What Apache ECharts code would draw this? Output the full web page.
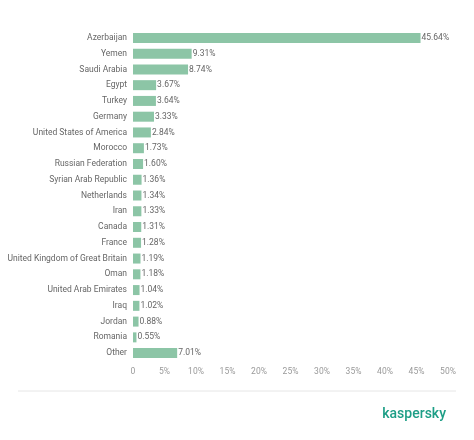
<!DOCTYPE html>
<html>
<head>
<meta charset="utf-8">
<script src="https://cdn.jsdelivr.net/npm/echarts@6/dist/echarts.min.js"></script>
<style>
  html, body { margin: 0; padding: 0; background: #fff; }
  #chart { width: 474px; height: 440px; }
</style>
</head>
<body>
<div id="chart"></div>
<script>
const countries = ['Azerbaijan', 'Yemen', 'Saudi Arabia', 'Egypt', 'Turkey', 'Germany',
    'United States of America', 'Morocco', 'Russian Federation', 'Syrian Arab Republic',
    'Netherlands', 'Iran', 'Canada', 'France', 'United Kingdom of Great Britain', 'Oman',
    'United Arab Emirates', 'Iraq', 'Jordan', 'Romania', 'Other'];
const shares = [45.64, 9.31, 8.74, 3.67, 3.64, 3.33, 2.84, 1.73, 1.60, 1.36, 1.34, 1.33,
    1.31, 1.28, 1.19, 1.18, 1.04, 1.02, 0.88, 0.55, 7.01];

const chart = echarts.init(document.getElementById('chart'));
chart.setOption({
    animation: false,
    grid: { left: 133, right: 26, top: 30, bottom: 79 },
    xAxis: {
        type: 'value', min: 0, max: 50, interval: 5,
        axisLine: { show: false }, axisTick: { show: false }, splitLine: { show: false },
        axisLabel: {
            color: '#999', fontSize: 8.5, fontFamily: 'Roboto', margin: 6,
            formatter: v => v === 0 ? '0' : v + '%'
        }
    },
    yAxis: {
        type: 'category', inverse: true, data: countries,
        axisLine: { show: false }, axisTick: { show: false },
        axisLabel: { color: '#666', fontSize: 8.5, fontFamily: 'Roboto', margin: 6 }
    },
    series: [{
        type: 'bar', data: shares, barWidth: 10,
        itemStyle: { color: '#8cc5a6' },
        label: {
            show: true, position: 'right', distance: 1,
            color: '#666', fontSize: 8.5, fontFamily: 'Roboto',
            formatter: p => p.value.toFixed(2) + '%'
        }
    }],
    graphic: [
        { type: 'line', shape: { x1: 18, y1: 391, x2: 456, y2: 391 },
          style: { stroke: '#e6e6e6', lineWidth: 1 } },
        { type: 'text', right: 28, top: 407,
          style: { text: 'kaspersky', fill: '#1d9e86', font: '500 14px Roboto' } }
    ]
});
</script>
</body>
</html>
